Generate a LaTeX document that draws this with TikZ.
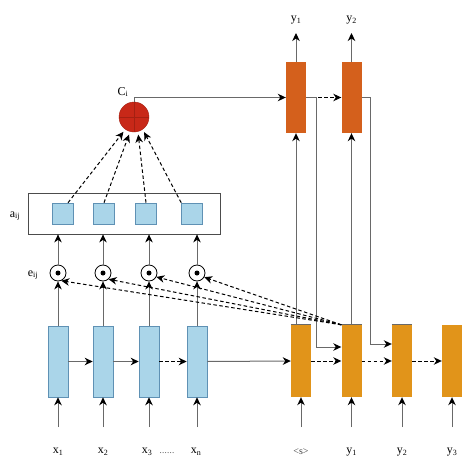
\documentclass[tikz,border=0pt]{standalone}
\usepackage{fontspec}
\setmainfont{Liberation Serif}
\usetikzlibrary{arrows.meta,calc}
\definecolor{encfill}{RGB}{170,213,233}
\definecolor{encdraw}{RGB}{95,145,180}
\definecolor{decfill}{RGB}{225,148,26}
\definecolor{topfill}{RGB}{212,96,28}
\definecolor{redc}{RGB}{200,40,24}
\definecolor{redline}{RGB}{165,32,18}
\definecolor{linegray}{RGB}{105,105,105}
\begin{document}
\begin{tikzpicture}[x=1pt,y=-1pt,
 font=\fontsize{12}{14}\selectfont,
 tip/.style={-{Stealth[length=8pt,width=7.5pt,inset=2.5pt,color=black]}},
 conn/.style={draw=linegray,line width=1pt,tip},
 plain/.style={draw=linegray,line width=1pt},
 dconn/.style={draw=black,line width=1pt,dash pattern=on 3.5pt off 2.5pt,tip},
 encbox/.style={rectangle,fill=encfill,draw=encdraw,line width=0.6pt,minimum width=20pt,minimum height=71pt,inner sep=0},
 decbox/.style={rectangle,fill=decfill,minimum width=20pt,minimum height=72pt,inner sep=0},
 topbox/.style={rectangle,fill=topfill,minimum width=20pt,minimum height=71pt,inner sep=0},
 sqbox/.style={rectangle,fill=encfill,draw=encdraw,line width=0.6pt,minimum size=21pt,inner sep=0},
 dotc/.style={circle,draw=black,line width=0.8pt,minimum size=16pt,inner sep=0,
   path picture={\fill[black] (path picture bounding box.center) circle (2.5pt);}},
 lbl/.style={inner sep=0}
]
\useasboundingbox (0,0) rectangle (474,474);
\fill[white] (0,0) rectangle (474,474);

% encoder boxes
\node[encbox] (e1) at (58,361.5) {};
\node[encbox] (e2) at (103,361.5) {};
\node[encbox] (e3) at (149,361.5) {};
\node[encbox] (e4) at (197,361.5) {};
% decoder boxes
\node[decbox] (d1) at (301,361) {};
\node[decbox] (d2) at (351.5,361) {};
\node[decbox] (d3) at (402,361) {};
\node[decbox] (d4) at (452,361) {};
% top output boxes
\node[topbox] (t1) at (296,97.5) {};
\node[topbox] (t2) at (351.5,97.5) {};
% score circles
\node[dotc] (o1) at (58,273) {};
\node[dotc] (o2) at (103,273) {};
\node[dotc] (o3) at (149,273) {};
\node[dotc] (o4) at (197,273) {};
% attention weights
\node[draw=black!70,line width=0.8pt,minimum width=192pt,minimum height=41pt,inner sep=0] (ab) at (124,213.5) {};
\node[sqbox] (s1) at (63,213.5) {};
\node[sqbox] (s2) at (104,213.5) {};
\node[sqbox] (s3) at (146,213.5) {};
\node[sqbox] (s4) at (192,213.5) {};
% context vector
\node[circle,fill=redc,draw=redline,line width=0.4pt,minimum size=30pt,inner sep=0] (C) at (134,117) {};
\draw[redline,line width=0.4pt] (C.north) -- (C.south) (C.west) -- (C.east);

% labels
\node[lbl] (lx1) at (58,452) {x\textsubscript{1}};
\node[lbl] (lx2) at (103,452) {x\textsubscript{2}};
\node[lbl] (lx3) at (147,452) {x\textsubscript{3}};
\node[lbl,text=black!70] (ldots) at (167,453) {\fontsize{9}{10}\selectfont .\kern0.3pt.\kern0.3pt.\kern0.3pt.\kern0.3pt.\kern0.3pt.};
\node[lbl] (lxn) at (196,452) {x\textsubscript{n}};
\node[lbl,text=black!75] (ls) at (301,452) {\fontsize{10}{11}\selectfont \textless s\textgreater};
\node[lbl] (ly1) at (351.5,452) {y\textsubscript{1}};
\node[lbl] (ly2) at (402,452) {y\textsubscript{2}};
\node[lbl] (ly3) at (452,452) {y\textsubscript{3}};
\node[lbl] (ty1) at (296,20) {y\textsubscript{1}};
\node[lbl] (ty2) at (351.5,20) {y\textsubscript{2}};
\node[lbl] (lC) at (123,92) {C\textsubscript{i}};
\node[lbl] (la) at (15,216) {a\textsubscript{ij}};
\node[lbl] (le) at (33,275) {e\textsubscript{ij}};

% input arrows
\foreach \n/\x in {e1/58,e2/103,e3/149,e4/197,d1/301,d2/351.5,d3/402,d4/452}{
  \coordinate (in\n) at (\x,427);
  \draw[conn] (in\n) -- (\n.south);
}
% encoder chain
\draw[conn] (e1.east) -- (e2.west);
\draw[conn] (e2.east) -- (e3.west);
\draw[dconn] (e3.east) -- (e4.west);
\draw[conn] (e4.east) -- (d1.west);
% decoder chain
\draw[dconn] (d1.east) -- (d2.west);
\draw[dconn] (d2.east) -- (d3.west);
\draw[dconn] (d3.east) -- (d4.west);
% encoder to scores
\foreach \i in {1,2,3,4}{
  \draw[conn] (e\i.north) -- (o\i.south);
  \draw[conn] (o\i.north) -- (o\i.north |- ab.south);
}
% weights to context
\draw[dconn,shorten >=3pt] ([xshift=5pt]s1.north) -- (C.235);
\draw[dconn,shorten >=3pt] (s2.north) -- (C.255);
\draw[dconn,shorten >=3pt] (s3.north) -- (C.285);
\draw[dconn,shorten >=3pt] (s4.north west) -- (C.305);
% context to decoder output
\draw[conn] (C.north) |- (t1.west);
% top chain
\draw[dconn] (t1.east) -- (t2.west);
\draw[conn] (t1.east) -- ++(10,0) |- ($(d2.west)+(0,-14)$);
\draw[conn] (t2.east) -- ++(9,0) |- ($(d3.west)+(0,-17)$);
% decoder to top boxes
\draw[conn] (t1.south |- d1.north) -- (t1.south);
\draw[conn] (d2.north) -- (t2.south);
% outputs
\coordinate (out1) at (296,33);
\coordinate (out2) at (351.5,33);
\draw[conn] (t1.north) -- (out1);
\draw[conn] (t2.north) -- (out2);
% top edges
\foreach \n in {d1,d2,d3}{\draw[plain] (\n.north west) -- (\n.north east);}
% decoder state to scores
\draw[dconn] (d2.north west) -- (o1.293);
\draw[dconn] (d2.north west) -- (o2.312);
\draw[dconn] (d2.north west) -- (o3.332);
\draw[dconn] (d2.north west) -- (o4.330);
\end{tikzpicture}
\end{document}
